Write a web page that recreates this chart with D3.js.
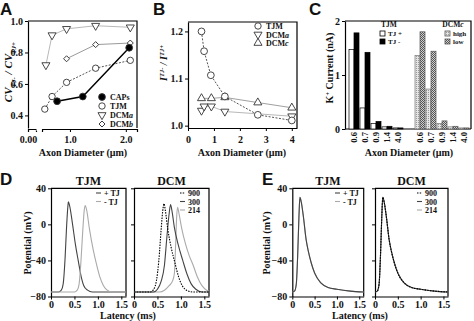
<!DOCTYPE html>
<html>
<head>
<meta charset="utf-8">
<script src="https://cdn.jsdelivr.net/npm/d3@7"></script>
<style>
body { margin: 0; background: #fff; }
svg text { font-family: "Liberation Serif", "DejaVu Serif", serif; font-weight: bold; fill: #111; }
svg .letter { font-family: "Liberation Sans", Arial, sans-serif; font-size: 17px; }
.tick text { font-size: 10px; }
.domain { stroke-width: 1.2; }
</style>
</head>
<body>
<div id="fig"></div>
<script>
// ---- panel A: CV ratio vs axon diameter
const aCaps = [[0.77, 0.49], [1.23, 0.52], [2.06, 0.83]];
const aTjm = [[0.55, 0.44], [0.68, 0.52], [0.94, 0.61], [1.46, 0.70], [2.08, 0.75]];
const aDcmA = [[0.57, 0.72], [0.68, 0.91], [0.94, 0.95], [1.46, 0.97], [2.08, 0.96]];
const aDcmB = [[0.94, 0.76], [1.46, 0.85], [2.08, 0.86]];
const aYTicks = [0.4, 0.6, 0.8, 1.0];

// ---- panel B: current ratio vs axon diameter
const bTjm = [[0.52, 1.200], [0.62, 1.158], [0.88, 1.107], [1.42, 1.062], [2.69, 1.023], [4.0, 1.011]];
const bDcmA = [[0.52, 1.032], [0.62, 1.041], [0.9, 1.041], [1.42, 1.030], [4.0, 1.020]];
const bDcmC = [[0.52, 1.058], [0.9, 1.058], [1.42, 1.060], [2.69, 1.049], [4.0, 1.038]];
const bYTicks = [1.0, 1.1, 1.2];
const bXTicks = [0, 1, 2, 3, 4];

// ---- panel C: K+ current bars
const cSizes = ["0.6", "0.7", "0.9", "1.4", "4.0"];
const cTjPlus = [1.47, 0.39, 0.10, 0.04, 0.02];
const cTjMinus = [1.78, 1.42, 0.14, 0.05, 0.02];
const cHigh = [1.36, 0.74, 0.10, 0.04, 0.02];
const cLow = [1.80, 1.44, 0.15, 0.05, 0.02];

// ---- panels D, E: action potentials [latency ms, mV]
const dTjPlus = [[0, -75], [0.16, -75], [0.22, -73], [0.26, -66], [0.3, -38], [0.33, -5], [0.36, 20], [0.37, 25], [0.4, 20], [0.46, 0], [0.52, -22], [0.58, -40], [0.64, -57], [0.7, -68], [0.78, -73], [0.88, -75], [1.6, -75]];
const dTjMinus = [[0, -75], [0.5, -75], [0.56, -73], [0.6, -66], [0.64, -40], [0.68, -5], [0.71, 16], [0.73, 21], [0.76, 16], [0.82, -5], [0.9, -28], [0.96, -42], [1.04, -58], [1.12, -68], [1.2, -73], [1.3, -75], [1.6, -75]];
const d900 = [[0, -75], [0.35, -75], [0.42, -72], [0.48, -62], [0.53, -40], [0.58, -5], [0.62, 18], [0.64, 23], [0.67, 15], [0.72, -5], [0.79, -25], [0.87, -42], [0.95, -58], [1.03, -68], [1.12, -73], [1.25, -75], [1.6, -75]];
const d300 = [[0, -75], [0.42, -75], [0.5, -72], [0.58, -63], [0.65, -45], [0.7, -15], [0.75, 12], [0.78, 22], [0.81, 15], [0.86, -3], [0.94, -22], [1.04, -40], [1.13, -55], [1.22, -66], [1.32, -72], [1.45, -75], [1.6, -75]];
const d214 = [[0, -75], [0.55, -75], [0.65, -73], [0.75, -68], [0.82, -63], [0.86, -55], [0.89, -20], [0.91, 8], [0.93, 19], [0.96, 12], [1.02, -5], [1.1, -22], [1.18, -35], [1.26, -45], [1.35, -58], [1.45, -68], [1.55, -73], [1.6, -74]];
const eSpike = [[0, -75], [0.05, -74], [0.09, -66], [0.12, -35], [0.15, 10], [0.17, 30], [0.2, 25], [0.25, 8], [0.31, -17], [0.36, -30], [0.42, -42], [0.5, -54], [0.64, -65], [0.8, -70], [1.0, -72], [1.3, -74], [1.6, -75]];
const apYTicks = [40, 0, -40, -80];
const apXTicks = [0, 0.5, 1.0, 1.5];

const svg = d3.select("#fig").append("svg").attr("width", 474).attr("height", 321);

// pattern fills for DCMc bars
const defs = svg.append("defs");
const pHigh = defs.append("pattern").attr("id", "pHigh").attr("width", 2).attr("height", 2).attr("patternUnits", "userSpaceOnUse");
pHigh.append("rect").attr("width", 2).attr("height", 2).attr("fill", "#e4e4e4");
pHigh.append("rect").attr("width", 1).attr("height", 1).attr("fill", "#9a9a9a");
const pLow = defs.append("pattern").attr("id", "pLow").attr("width", 2).attr("height", 2).attr("patternUnits", "userSpaceOnUse");
pLow.append("rect").attr("width", 2).attr("height", 2).attr("fill", "#d0d0d0");
pLow.append("rect").attr("width", 1).attr("height", 1).attr("fill", "#555");
pLow.append("rect").attr("x", 1).attr("y", 1).attr("width", 1).attr("height", 1).attr("fill", "#555");

function letter(t, x, y) {
    svg.append("text").attr("class", "letter").attr("x", x).attr("y", y).text(t);
}

function frame(x0, x1, y0, y1) {
    svg.append("path")
        .attr("d", `M${x0},${y0}H${x1}V${y1}`)
        .attr("fill", "none").attr("stroke", "#000").attr("stroke-width", 1.2);
}

function leftAxis(scale, x, ticks, fmt) {
    return svg.append("g").attr("transform", `translate(${x},0)`)
        .call(d3.axisLeft(scale).tickValues(ticks).tickSize(3).tickSizeOuter(0).tickPadding(2).tickFormat(fmt))
        .attr("font-family", null).attr("font-size", null);
}

function bottomAxis(scale, y, ticks, fmt, pad) {
    return svg.append("g").attr("transform", `translate(0,${y})`)
        .call(d3.axisBottom(scale).tickValues(ticks).tickSize(3).tickSizeOuter(0).tickPadding(pad).tickFormat(fmt))
        .attr("font-family", null).attr("font-size", null);
}

function vLabel(parts, x, y, size, italic) {
    const t = svg.append("text").attr("transform", `translate(${x},${y}) rotate(-90)`)
        .attr("text-anchor", "middle").attr("font-size", size)
        .attr("font-style", italic ? "italic" : null);
    parts.forEach(p => {
        t.append("tspan").attr("baseline-shift", p[1]).attr("font-size", p[1] ? size * 0.65 : null).text(p[0]);
    });
}

function hLabel(txt, x, y, size) {
    svg.append("text").attr("x", x).attr("y", y).attr("text-anchor", "middle").attr("font-size", size).text(txt);
}

const sym = (type, size) => d3.symbol().type(type).size(size)();

function symbols(data, xs, ys, type, size, fill, rot) {
    svg.append("g").selectAll("path").data(data).join("path")
        .attr("d", sym(type, size))
        .attr("transform", d => `translate(${xs(d[0])},${ys(d[1])}) rotate(${rot})`)
        .attr("fill", fill).attr("stroke", "#333").attr("stroke-width", 0.9);
}

function connect(data, xs, ys, color, width, dash) {
    svg.append("path").datum(data)
        .attr("d", d3.line().x(d => xs(d[0])).y(d => ys(d[1])))
        .attr("fill", "none").attr("stroke", color).attr("stroke-width", width)
        .attr("stroke-dasharray", dash);
}

function legendRow(x, y, type, size, fill, rot, name, ital) {
    svg.append("path").attr("d", sym(type, size))
        .attr("transform", `translate(${x},${y}) rotate(${rot})`)
        .attr("fill", fill).attr("stroke", "#333").attr("stroke-width", 0.9);
    const t = svg.append("text").attr("x", x + 8).attr("y", y + 3).attr("font-size", 8).text(name);
    if (ital) t.append("tspan").attr("font-style", "italic").text(ital);
}

// ================= A =================
letter("A", 0, 15);
const ay = d3.scaleLinear([0.32, 1.0], [128, 21]);
const axMain = d3.scaleLinear([0.5, 2.2], [42, 137]);
const axBreak = d3.scaleLinear([0, 0.15], [28, 36]);
frame(28, 137, 21, 128);
leftAxis(ay, 28, aYTicks, d3.format(".1f"));
svg.append("g").attr("transform", "translate(0,129)")
    .call(d3.axisBottom(axBreak).tickValues([0]).tickSize(3).tickSizeOuter(3).tickPadding(4))
    .attr("font-family", null).attr("font-size", null);
svg.append("g").attr("transform", "translate(0,129)")
    .call(d3.axisBottom(axMain).tickValues([1, 2]).tickSize(3).tickSizeOuter(3).tickPadding(4))
    .attr("font-family", null).attr("font-size", null);
// white out the frame bottom where the axis breaks
svg.append("rect").attr("x", 36.5).attr("y", 127).attr("width", 5).attr("height", 4).attr("fill", "#fff");

connect(aDcmA, axMain, ay, "#b8b8b8", 1);
connect(aDcmB, axMain, ay, "#9a9a9a", 1);
connect(aTjm, axMain, ay, "#555", 1, "2,1.5");
connect(aCaps, axMain, ay, "#000", 1.4);
symbols(aDcmA, axMain, ay, d3.symbolTriangle, 28, "#fff", 180);
symbols(aDcmB, axMain, ay, d3.symbolSquare, 18, "#fff", 45);
symbols(aTjm, axMain, ay, d3.symbolCircle, 32, "#fff", 0);
symbols(aCaps, axMain, ay, d3.symbolCircle, 36, "#000", 0);

legendRow(102, 97, d3.symbolCircle, 36, "#000", 0, "CAPs");
legendRow(102, 106, d3.symbolCircle, 32, "#fff", 0, "TJM");
legendRow(102, 115, d3.symbolTriangle, 28, "#fff", 180, "DCM", "a");
legendRow(102, 124, d3.symbolSquare, 18, "#fff", 45, "DCM", "b");

vLabel([["CV"], ["TJ-", "sub"], [" / CV"], ["TJ+", "sub"]], 12, 72, 11, true);
hLabel("Axon Diameter (\u00b5m)", 83, 156, 10);

// ================= B =================
letter("B", 153, 15);
const by = d3.scaleLinear([0.995, 1.22], [128, 22]);
const bx = d3.scaleLinear([0, 4.2], [188, 297]);
frame(188, 297, 22, 128);
leftAxis(by, 188, bYTicks, d3.format(".1f"));
bottomAxis(bx, 128, bXTicks, d3.format("d"), 5);

connect(bDcmA, bx, by, "#b8b8b8", 1);
connect(bDcmC, bx, by, "#a0a0a0", 1);
connect(bTjm, bx, by, "#555", 1, "2,1.5");
symbols(bDcmA, bx, by, d3.symbolTriangle, 28, "#fff", 180);
symbols(bDcmC, bx, by, d3.symbolTriangle, 28, "#fff", 0);
symbols(bTjm, bx, by, d3.symbolCircle, 36, "#fff", 0);

legendRow(258, 26, d3.symbolCircle, 32, "#fff", 0, "TJM");
legendRow(258, 34.5, d3.symbolTriangle, 28, "#fff", 180, "DCM", "a");
legendRow(258, 43, d3.symbolTriangle, 28, "#fff", 0, "DCM", "c");

vLabel([["I"], ["TJ-", "super"], [" / I"], ["TJ+", "super"]], 167, 63, 10, true);
hLabel("Axon Diameter (\u00b5m)", 242, 156, 10);

// ================= C =================
letter("C", 309, 15);
const slots = cSizes.map(s => "t" + s).concat(["gap"], cSizes.map(s => "d" + s));
const cx = d3.scaleBand(slots, [348.5, 469.5]);
const cy = d3.scaleLinear([0, 2], [129, 21]);
frame(345, 471, 21, 129);
leftAxis(cy, 345, [0, 1, 2], d3.format("d"));
svg.append("line").attr("x1", 345).attr("x2", 471).attr("y1", 129).attr("y2", 129)
    .attr("stroke", "#000").attr("stroke-width", 1.2);

const bw = 5;
function bars(keys, vals, off, fill, stroke) {
    svg.append("g").selectAll("rect").data(vals).join("rect")
        .attr("x", (d, i) => cx(keys[i]) + cx.bandwidth() / 2 + off)
        .attr("y", d => cy(d))
        .attr("width", bw)
        .attr("height", d => cy(0) - cy(d))
        .attr("fill", fill).attr("stroke", stroke).attr("stroke-width", 0.7);
}
const tKeys = cSizes.map(s => "t" + s), dKeys = cSizes.map(s => "d" + s);
bars(tKeys, cTjPlus, -bw, "#fff", "#000");
bars(tKeys, cTjMinus, 0, "#000", "#000");
bars(dKeys, cHigh, -bw, "url(#pHigh)", "#777");
bars(dKeys, cLow, 0, "url(#pLow)", "#555");

svg.append("g").selectAll("text").data(slots.filter(s => s !== "gap")).join("text")
    .attr("transform", d => `translate(${cx(d) + cx.bandwidth() / 2 + 3},132) rotate(-90)`)
    .attr("text-anchor", "end").attr("font-size", 8.5)
    .text(d => d.slice(1));

// C legend
svg.append("text").attr("x", 389).attr("y", 27).attr("text-anchor", "middle").attr("font-size", 7.5).text("TJM");
const cLeg = svg.append("text").attr("x", 453).attr("y", 27).attr("text-anchor", "middle").attr("font-size", 7.5).text("DCM");
cLeg.append("tspan").attr("font-style", "italic").text("c");
[[380, 33.5, "#fff", "#000", "TJ +"], [380, 41.5, "#000", "#000", "TJ -"],
 [445, 33.5, "url(#pHigh)", "#555", "high"], [445, 41.5, "url(#pLow)", "#555", "low"]].forEach(r => {
    svg.append("rect").attr("x", r[0]).attr("y", r[1] - 2.5).attr("width", 5).attr("height", 5)
        .attr("fill", r[2]).attr("stroke", r[3]).attr("stroke-width", 0.8);
    svg.append("text").attr("x", r[0] + 8).attr("y", r[1] + 2.5).attr("font-size", 7).text(r[4]);
});

vLabel([["K"], ["+", "super"], [" Current (nA)"]], 333, 68, 10, false);
hLabel("Axon Diameter (\u00b5m)", 409, 156, 10);

// ================= D / E =================
const apY = d3.scaleLinear([-80, 40], [296.5, 188.3]);
const apFmt = d => d === 0 ? "0" : d3.format(".1f")(d);
const lineGen = (xs) => d3.line().x(d => xs(d[0])).y(d => apY(d[1])).curve(d3.curveMonotoneX);

function apPanel(xs, labels, title, series) {
    const [x0, x1] = xs.range();
    frame(x0, x1, 188.3, 296.5);
    leftAxis(apY, x0, apYTicks, labels ? d3.format("d") : "");
    bottomAxis(xs, 296.5, apXTicks, apFmt, 1);
    hLabel(title, (x0 + x1) / 2, 185, 12);
    series.forEach(s => {
        svg.append("path").datum(s.data).attr("d", lineGen(xs))
            .attr("fill", "none").attr("stroke", s.color).attr("stroke-width", 1.1)
            .attr("stroke-dasharray", s.dash);
    });
}

function apLegend(x, y0, series) {
    series.forEach((s, i) => {
        const y = y0 + i * 8.5;
        svg.append("line").attr("x1", x).attr("x2", x + 5).attr("y1", y).attr("y2", y)
            .attr("stroke", s.color).attr("stroke-width", 1.1).attr("stroke-dasharray", s.dash);
        svg.append("text").attr("x", x + 8).attr("y", y + 3).attr("font-size", 8).text(s.name);
    });
}

const colPlus = "#444", colMinus = "#aaa";

letter("D", 0, 185);
const dTx = d3.scaleLinear([0, 1.6], [51, 126]);
const dDx = d3.scaleLinear([0, 1.6], [134, 209]);
const dTjmSeries = [
    {name: "+ TJ", data: dTjPlus, color: colPlus},
    {name: "- TJ", data: dTjMinus, color: colMinus}
];
const dDcmSeries = [
    {name: "900", data: d900, color: "#000", dash: "1.5,1.2"},
    {name: "300", data: d300, color: colPlus},
    {name: "214", data: d214, color: colMinus}
];
apPanel(dTx, true, "TJM", dTjmSeries);
apPanel(dDx, false, "DCM", [dDcmSeries[2], dDcmSeries[1], dDcmSeries[0]]);
apLegend(96, 193, dTjmSeries);
apLegend(180, 193, dDcmSeries);
vLabel([["Potential (mV)"]], 31, 243, 10, false);
hLabel("Latency  (ms)", 128, 319, 10);

letter("E", 262, 185);
const eTx = d3.scaleLinear([0, 1.6], [292.3, 363.7]);
const eDx = d3.scaleLinear([0, 1.6], [375, 448]);
const eTjmSeries = [
    {name: "+ TJ", data: eSpike, color: colPlus},
    {name: "- TJ", data: eSpike, color: colMinus}
];
const eDcmSeries = [
    {name: "900", data: eSpike, color: "#000", dash: "1.5,1.2"},
    {name: "300", data: eSpike, color: colPlus},
    {name: "214", data: eSpike, color: colMinus}
];
apPanel(eTx, true, "TJM", [eTjmSeries[1], eTjmSeries[0]]);
apPanel(eDx, false, "DCM", [eDcmSeries[2], eDcmSeries[1], eDcmSeries[0]]);
apLegend(335, 193, eTjmSeries);
apLegend(417, 193, eDcmSeries);
vLabel([["Potential (mV)"]], 270, 243, 10, false);
hLabel("Latency  (ms)", 360, 319, 10);
</script>
</body>
</html>
